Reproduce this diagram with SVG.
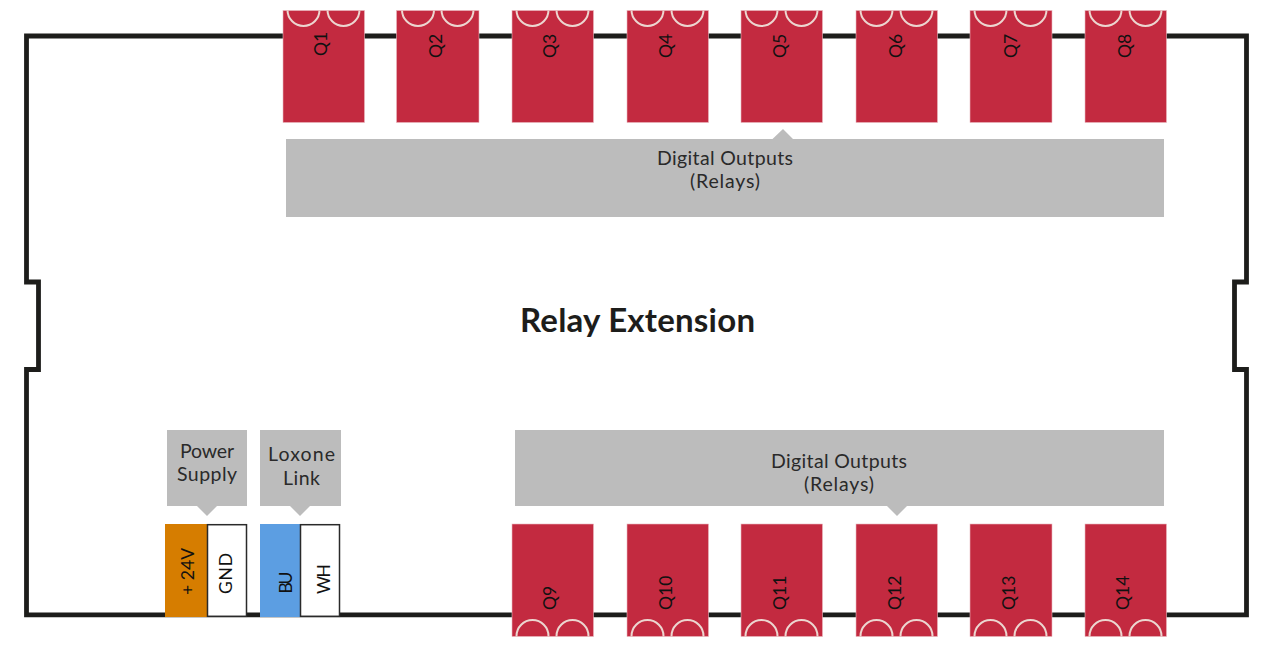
<svg xmlns="http://www.w3.org/2000/svg" width="1262" height="652" viewBox="0 0 1262 652">
<style>
text{font-family:"Lato","Liberation Sans",sans-serif;fill:#2a2a2a}
.box{fill:#bcbcbc}
.lbl{font-size:19.5px;text-anchor:middle}
.q{fill:#c32a40;stroke:#e9b9c0;stroke-width:.6}
.c{fill:none;stroke:#ecd6d0;stroke-width:2}
.v{font-size:17.5px;fill:#111}
.w{fill:#fff;stroke:#2a2a2a;stroke-width:1.5}
</style>
<defs>
<clipPath id="ct"><rect x="0" y="10.5" width="1262" height="60"/></clipPath>
<clipPath id="cb"><rect x="0" y="590" width="1262" height="46.5"/></clipPath>
</defs>
<g id="connectors"></g>
<g id="housing"><path d="M26.5 36H1246.5V282H1234.5V369.5H1246.5V614.8H26.5V369.5H38.5V282H26.5Z" fill="#fff" stroke="#1d1d1b" stroke-width="4.8"/></g>
<g id="title"><text x="637.5" y="331.500" text-anchor="middle" font-size="33" font-weight="700" textLength="235" style="fill:#1d1d1b">Relay Extension</text></g>
<g id="outputs-top-label"><path class="box" d="M286 139H772.5L783 129L793 139H1164V217H286Z"/><text class="lbl" x="725" y="165" textLength="136">Digital Outputs</text><text class="lbl" x="725" y="188" textLength="70">(Relays)</text></g>
<g id="outputs-bottom-label"><path class="box" d="M515 430H1164V506H907L897 516L887 506H515Z"/><text class="lbl" x="839" y="468" textLength="136">Digital Outputs</text><text class="lbl" x="839" y="491" textLength="70">(Relays)</text></g>
<g id="power-label"><path class="box" d="M167 430H247V506H217L207 516L197 506H167Z"/><text class="lbl" x="207" y="458" textLength="54">Power</text><text class="lbl" x="207" y="481" textLength="60">Supply</text></g>
<g id="link-label"><path class="box" d="M260 430H341V506H310L300 516L290 506H260Z"/><text class="lbl" x="301.500" y="461" textLength="67">Loxone</text><text class="lbl" x="301.500" y="485" textLength="37">Link</text></g>
<g id="t24v"><rect x="165" y="524" width="42.5" height="93" fill="#d67d00"/><text class="v" transform="translate(194 595) rotate(-90)" textLength="47">+ 24V</text></g>
<g id="tgnd"><rect class="w" x="207.500" y="524.7" width="39" height="91.6"/><text class="v" transform="translate(231.500 594) rotate(-90)" textLength="41">GND</text></g>
<g id="tbu"><rect x="260" y="524" width="40.5" height="93" fill="#5c9ee2"/><text class="v" transform="translate(291.500 593.500) rotate(-90)" textLength="22">BU</text></g>
<g id="twh"><rect class="w" x="300.500" y="524.7" width="39" height="91.6"/><text class="v" transform="translate(329.500 594) rotate(-90)" textLength="30">WH</text></g>
<g id="q1"><rect class="q" x="283" y="10.5" width="81.5" height="112"/><g clip-path="url(#ct)"><circle class="c" cx="303.500" cy="10" r="16"/><circle class="c" cx="343.500" cy="10" r="16"/></g><text class="v" transform="translate(327 56) rotate(-90)">Q1</text></g>
<g id="q2"><rect class="q" x="396.500" y="10.5" width="82.5" height="112"/><g clip-path="url(#ct)"><circle class="c" cx="418" cy="10" r="16"/><circle class="c" cx="457.500" cy="10" r="16"/></g><text class="v" transform="translate(442 58) rotate(-90)">Q2</text></g>
<g id="q3"><rect class="q" x="512" y="10.5" width="81.5" height="112"/><g clip-path="url(#ct)"><circle class="c" cx="532.500" cy="10" r="16"/><circle class="c" cx="572.500" cy="10" r="16"/></g><text class="v" transform="translate(556 58) rotate(-90)">Q3</text></g>
<g id="q4"><rect class="q" x="627" y="10.5" width="81.5" height="112"/><g clip-path="url(#ct)"><circle class="c" cx="647.500" cy="10" r="16"/><circle class="c" cx="687.500" cy="10" r="16"/></g><text class="v" transform="translate(672 58) rotate(-90)">Q4</text></g>
<g id="q5"><rect class="q" x="741" y="10.5" width="81.5" height="112"/><g clip-path="url(#ct)"><circle class="c" cx="761.500" cy="10" r="16"/><circle class="c" cx="801.500" cy="10" r="16"/></g><text class="v" transform="translate(786 58) rotate(-90)">Q5</text></g>
<g id="q6"><rect class="q" x="856" y="10.5" width="81.5" height="112"/><g clip-path="url(#ct)"><circle class="c" cx="876.500" cy="10" r="16"/><circle class="c" cx="916.500" cy="10" r="16"/></g><text class="v" transform="translate(902 58) rotate(-90)">Q6</text></g>
<g id="q7"><rect class="q" x="970" y="10.5" width="82" height="112"/><g clip-path="url(#ct)"><circle class="c" cx="990.500" cy="10" r="16"/><circle class="c" cx="1030.500" cy="10" r="16"/></g><text class="v" transform="translate(1017 58) rotate(-90)">Q7</text></g>
<g id="q8"><rect class="q" x="1085" y="10.5" width="81.5" height="112"/><g clip-path="url(#ct)"><circle class="c" cx="1105.500" cy="10" r="16"/><circle class="c" cx="1145.500" cy="10" r="16"/></g><text class="v" transform="translate(1131 58) rotate(-90)">Q8</text></g>
<g id="q9"><rect class="q" x="512" y="524" width="81.500" height="112.500"/><g clip-path="url(#cb)"><circle class="c" cx="532.500" cy="636" r="16"/><circle class="c" cx="572.500" cy="636" r="16"/></g><text class="v" transform="translate(556 610) rotate(-90)">Q9</text></g>
<g id="q10"><rect class="q" x="627" y="524" width="81.500" height="112.500"/><g clip-path="url(#cb)"><circle class="c" cx="647.500" cy="636" r="16"/><circle class="c" cx="687.500" cy="636" r="16"/></g><text class="v" transform="translate(672 610) rotate(-90)">Q10</text></g>
<g id="q11"><rect class="q" x="741" y="524" width="81.500" height="112.500"/><g clip-path="url(#cb)"><circle class="c" cx="761.500" cy="636" r="16"/><circle class="c" cx="801.500" cy="636" r="16"/></g><text class="v" transform="translate(786 610) rotate(-90)">Q11</text></g>
<g id="q12"><rect class="q" x="856" y="524" width="81.500" height="112.500"/><g clip-path="url(#cb)"><circle class="c" cx="876.500" cy="636" r="16"/><circle class="c" cx="916.500" cy="636" r="16"/></g><text class="v" transform="translate(901 610) rotate(-90)">Q12</text></g>
<g id="q13"><rect class="q" x="970" y="524" width="82" height="112.500"/><g clip-path="url(#cb)"><circle class="c" cx="990.500" cy="636" r="16"/><circle class="c" cx="1030.500" cy="636" r="16"/></g><text class="v" transform="translate(1015 610) rotate(-90)">Q13</text></g>
<g id="q14"><rect class="q" x="1085" y="524" width="81.500" height="112.500"/><g clip-path="url(#cb)"><circle class="c" cx="1105.500" cy="636" r="16"/><circle class="c" cx="1145.500" cy="636" r="16"/></g><text class="v" transform="translate(1129 610) rotate(-90)">Q14</text></g>
</svg>
